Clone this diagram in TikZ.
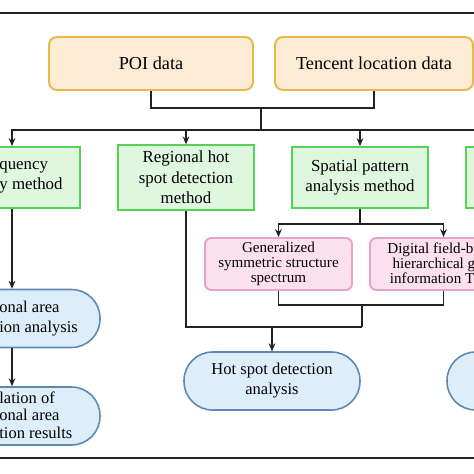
\documentclass[tikz,border=0pt]{standalone}
\usepackage{fontspec}
\setmainfont{Liberation Serif}
\usepackage{xcolor}
\usetikzlibrary{arrows.meta,positioning}

\definecolor{datafill}{HTML}{FCEBD5}
\definecolor{dataline}{HTML}{E8B84A}
\definecolor{methfill}{HTML}{DFF6DF}
\definecolor{methline}{HTML}{55D155}
\definecolor{subfill}{HTML}{FCE0EE}
\definecolor{subline}{HTML}{E6A2C8}
\definecolor{resfill}{HTML}{DDEEFA}
\definecolor{resline}{HTML}{5F88AE}
\definecolor{linkcol}{HTML}{222222}

\begin{document}
\begin{tikzpicture}[x=0.02cm,y=-0.02cm,
  databox/.style={draw=dataline,fill=datafill,line width=1.1pt,rounded corners=4.5pt,
    minimum height=1.06cm,font=\fontsize{10.4}{11.4}\selectfont},
  methbox/.style={draw=methline,fill=methfill,line width=1.1pt,minimum width=2.72cm,
    minimum height=1.22cm,align=center,font=\fontsize{9.6}{11.6}\selectfont},
  subbox/.style={draw=subline,fill=subfill,line width=1.1pt,rounded corners=3.5pt,
    minimum width=2.94cm,minimum height=1.04cm,align=center,inner sep=1pt,
    font=\fontsize{8.6}{8.6}\selectfont},
  resbox/.style={draw=resline,fill=resfill,line width=0.9pt,rounded corners=0.57cm,
    minimum width=3.52cm,minimum height=1.16cm,align=center,font=\fontsize{9.4}{11.4}\selectfont},
  cuttext/.style={anchor=west,align=left,inner xsep=0pt},
  link/.style={draw=linkcol,line width=0.8pt},
  arr/.style={link,-{Stealth[length=4.5pt,width=3.8pt]}}]
  \useasboundingbox (0,0) rectangle (474,474);
  \clip (0,0) rectangle (474,474);

  % frame lines
  \draw[link] (0,13) -- (474,13);
  \draw[link] (0,458) -- (474,458);

  % data sources
  \node[databox,minimum width=4.08cm] (poi) at (151,63.5) {POI data};
  \node[databox,minimum width=3.96cm] (tencent) at (374,63.5) {Tencent location data};
  \coordinate (j1) at (261,108); \coordinate (j2) at (261,130);
  \draw[link] (poi.south) |- (j1) -| (tencent.south);
  \draw[link] (j1) -- (j2);

  % methods
  \node[methbox] (m1) at (12,177.5) {};
  \node[cuttext,font=\fontsize{9.6}{11.6}\selectfont] (m1t) at (-1,177.5) {quency\\y method};
  \node[methbox] (m2) at (186,177.5) {Regional hot\\spot detection\\method};
  \node[methbox] (m3) at (360,177.5) {Spatial pattern\\analysis method};
  \node[methbox] (m4) at (534,177.5) {};
  \foreach \m in {m1,m2,m3,m4}
    \draw[arr] (j2) -| (\m.north);

  % spatial pattern sub-methods
  \coordinate (s1) at (360,224);
  \node[subbox] (p1) at (278.5,264) {Generalized\\symmetric structure\\spectrum};
  \node[subbox] (p2) at (443.5,264) {};
  \node[cuttext,font=\fontsize{8.6}{8.6}\selectfont] (p2t) at (387,263) {Digital field-b\\\hspace{3pt}hierarchical g\\\hspace{1.5pt}information T};
  \draw[link] (m3.south) -- (s1);
  \draw[arr] (s1) -| (p1.north);
  \draw[arr] (s1) -| (p2.north);
  \coordinate (s2) at (362,305); \coordinate (s3) at (362,327);
  \draw[link] (p1.south) |- (s2) -| (p2.south);
  \draw[link] (s2) -- (s3);
  \draw[link] (m2.south) |- (s3);

  % results
  \node[resbox] (b1) at (12,318.5) {};
  \node[cuttext,font=\fontsize{9.4}{11.4}\selectfont] (b1t) at (-1,319) {onal area\\ion analysis};
  \node[resbox] (b2) at (12,416) {};
  \node[cuttext,font=\fontsize{9.4}{10}\selectfont] (b2t) at (-1,415) {lation of\\onal area\\tion results};
  \node[resbox] (h1) at (272,381) {Hot spot detection\\analysis};
  \node[resbox] (r1) at (535,381) {};
  \draw[arr] (m1.south) -- (b1.north);
  \draw[arr] (b1.south) -- (b2.north);
  \draw[arr] (h1.north |- s3) -- (h1.north);
\end{tikzpicture}
\end{document}
